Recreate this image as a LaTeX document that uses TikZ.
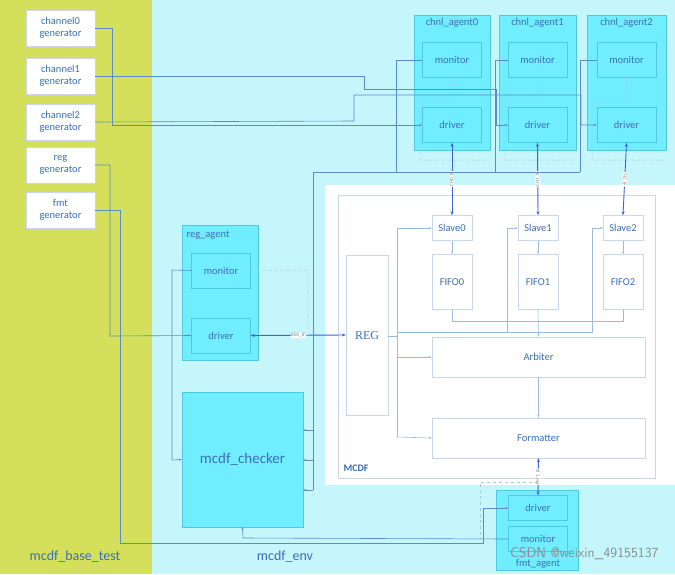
\documentclass[tikz,border=0pt]{standalone}
\usepackage{fontspec}
\setmainfont{Carlito}
\usetikzlibrary{arrows.meta}
\definecolor{gbg}{RGB}{212,224,92}
\definecolor{cbg}{RGB}{196,246,252}
\definecolor{ag}{RGB}{112,238,255}
\definecolor{tx}{RGB}{60,110,180}
\definecolor{ln}{RGB}{90,140,200}
\definecolor{lb}{RGB}{200,215,235}
\definecolor{sb}{RGB}{80,200,225}
\begin{document}
\begin{tikzpicture}[x=1pt,y=-1pt,font=\fontsize{10.5}{12}\selectfont,text=tx,
 gen/.style={draw=lb,fill=white,minimum width=69pt,minimum height=36pt,align=center,inner sep=1pt},
 sub/.style={draw=sb,minimum width=59pt,minimum height=35pt},
 mb/.style={draw=lb,fill=white},
 w/.style={draw=ln,line width=0.6pt},
 a/.style={w,-{Stealth[length=3pt]}},
 ba/.style={draw=ln!70!blue,line width=0.9pt,{Stealth[length=4pt]}-{Stealth[length=4pt]}},
 dsh/.style={draw=ln!50,dashed,line width=0.5pt},
 lab/.style={fill=white,inner sep=0.5pt,font=\fontsize{5}{5}\selectfont,text=gray}]
\useasboundingbox (0,0) rectangle (675,574);
\fill[gbg] (0,0) rectangle (152,574);
\fill[cbg] (152,0) rectangle (675,574);
\fill[white] (325,185) rectangle (675,485);
\draw[lb] (338,195) rectangle (655,478);
\node[anchor=west,font=\bfseries\fontsize{10}{11}\selectfont] (mcdfl) at (340,468) {MCDF};
\node[font=\fontsize{14}{15}\selectfont] (btl) at (75,557) {mcdf\_base\_test};
\node[font=\fontsize{14}{15}\selectfont] (envl) at (285,557) {mcdf\_env};
% generators
\node[gen] (g0) at (60.5,28) {channel0\\generator};
\node[gen] (g1) at (60.5,76) {channel1\\generator};
\node[gen] (g2) at (60.5,122) {channel2\\generator};
\node[gen] (gr) at (60.5,165) {reg\\generator};
\node[gen] (gf) at (60.5,210) {fmt\\generator};
% channel agents
\foreach \i/\xl/\xr in {0/414/490,1/499/576,2/587/666}{
 \fill[ag,draw=sb] (\xl,15) rectangle (\xr,150);
 \node[anchor=north] (t\i) at ({(\xl+\xr)/2},15) {chnl\_agent\i};
 \node[sub] (m\i) at ({(\xl+\xr)/2},60) {monitor};
 \node[sub] (d\i) at ({(\xl+\xr)/2},125) {driver};
}
% dashed internal
\draw[dsh] (m0.south) -- (454,100) -- (420,100) -- (420,160) -- (490,160);
\draw[dsh] (m1.south) -- (538,100) -- (505,100) -- (505,160) -- (576,160);
\draw[dsh] (m2.south) -- (626,100) -- (592,100) -- (592,160) -- (666,160);
% MCDF blocks
\foreach \i/\x in {0/452,1/538,2/623}{
 \node[mb,minimum width=40pt,minimum height=25pt] (s\i) at (\x,228) {Slave\i};
 \node[mb,minimum width=40pt,minimum height=55pt] (f\i) at (\x,282) {FIFO\i};
 \draw[a,ln!60] (s\i) -- (f\i);
}
\node[mb,minimum width=42pt,minimum height=160pt] (reg) at (367,335) {};
\node[font=\fontsize{12}{13}\selectfont,text=tx] (regt) at (367,336) {\fontspec{Liberation Serif}REG};
\node[mb,minimum width=213pt,minimum height=40pt] (arb) at (538.5,357) {Arbiter};
\node[mb,minimum width=213pt,minimum height=40pt] (fmt) at (538.5,438) {Formatter};
\draw[a,ln!60] (arb) -- (fmt);
% interfaces
\foreach \i in {0,1,2}{
 \draw[ba] (d\i.south) -- (s\i.north) node[midway,sloped,lab,rotate=180] {CH\i\_IF};
}
% REG fanout
\coordinate (rj) at (397,336);
\draw[w,ln!60] (reg.east |- rj) -- (rj);
\draw[a,ln!60] (397,228) -- (s0.west);
\draw[w,ln!60] (397,228) -- (397,437);
\draw[a,ln!60] (397,357) -- (arb.west);
\draw[a,ln!60] (397,437) -- (fmt.west);
\draw[w,ln!60] (397,332) -- (538,332);
\draw[a,ln!60] (507,228) -- (s1.west);
\draw[w,ln!60] (507,228) -- (507,332);
\draw[a,ln!60] (592,228) -- (s2.west);
\draw[w,ln!60] (592,228) -- (592,332) -- (538,332);
\draw[w,ln!60] (f0.south) -- (452,321) -- (623,321) -- (f2.south);
\draw[a,ln!60] (f1.south) -- (arb.north);
% reg agent
\fill[ag,draw=sb] (182,225) rectangle (258,360);
\node[anchor=north west] (rat) at (183,227) {reg\_agent};
\node[sub] (rm) at (221,270.5) {monitor};
\node[sub] (rd) at (221,335.5) {driver};
\draw[ba] (rd.east) -- (reg.west) node[pos=0.5,lab] {REG\_IF};
\draw[dsh] (rm.east) -- (308,270) -- (308,333);
% checker
\node[fill=ag,draw=sb,minimum width=121pt,minimum height=135pt,font=\fontsize{15}{16}\selectfont] (chk) at (242.5,459.5) {mcdf\_checker};
% fmt agent
\fill[ag,draw=sb] (496,490) rectangle (578,570);
\node[sub,minimum height=25pt] (fd) at (538,508) {driver};
\node[sub,minimum height=25pt] (fm) at (538,539) {monitor};
\node[anchor=south] (fat) at (538,572) {fmt\_agent};
\draw[ba] (fmt.south) -- (fd.north) node[midway,sloped,lab] {FMT\_IF};
\draw[dsh] (538,482) -- (480,482) -- (480,540);
% generator wires
\draw[a] (g0.east) -- (112,28) -- (112,125) -- (d0.west);
\draw[a] (g1.east) -- (364,76) -- (364,89) -- (496,89) -- (496,125) -- (d1.west);
\draw[a] (g2.east) -- (354,121) -- (354,95) -- (581,95) -- (581,125) -- (d2.west);
\draw[a] (gr.east) -- (110,165) -- (110,336) -- (rd.west);
\draw[a] (gf.east) -- (120,210) -- (120,543) -- (483,543) -- (483,508) -- (fd.west);
% monitors to checker
\draw[w] (m0.west) -- (396,60) -- (396,172);
\draw[w] (m1.west) -- (495,60) -- (495,172);
\draw[w] (m2.west) -- (580,60) -- (580,172);
\draw[w] (580,172) -- (313,172) -- (313,490);
\draw[a] (313,430) -- (chk.east |- 0,430);
\draw[a] (313,460) -- (chk.east |- 0,460);
\draw[a] (313,490) -- (chk.east |- 0,490);
\draw[a] (rm.west) -- (172,270) -- (172,460) -- (chk.west);
\draw[a] (fm.west) -- (243,538) -- (chk.south);
\node[anchor=east,text=gray!90,font=\fontsize{14}{14}\selectfont\sffamily] (wm) at (662,554) {CSDN @weixin\_49155137};
\end{tikzpicture}
\end{document}
